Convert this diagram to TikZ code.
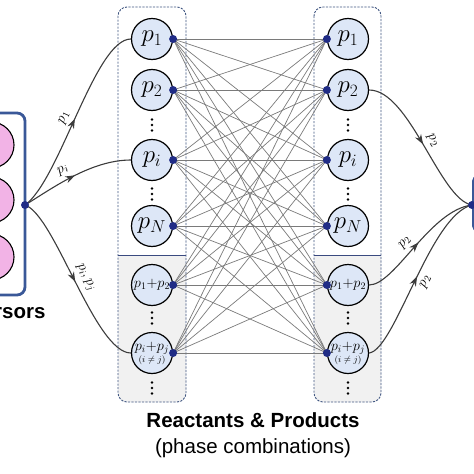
\documentclass[tikz,border=0pt]{standalone}
\usepackage{fontspec}
\newfontfamily\arialf{Liberation Sans}
\usetikzlibrary{arrows.meta,decorations.markings}
\definecolor{nodefill}{HTML}{DDE7F7}
\definecolor{navy}{HTML}{202C86}
\definecolor{boxblue}{HTML}{3A5898}
\definecolor{dashblue}{HTML}{3F5580}
\definecolor{sepblue}{HTML}{3A4A80}
\definecolor{crossgray}{HTML}{7A7A7A}
\definecolor{curvegray}{HTML}{3C3C3C}
\definecolor{lightshade}{HTML}{F1F1F1}
\definecolor{pinkfill}{HTML}{F2B3E6}
\begin{document}
\begin{tikzpicture}[x=1pt,y=1pt,
  pnode/.style={circle,draw=black,line width=1.2pt,fill=nodefill,minimum size=41pt,inner sep=0pt},
  bignum/.style={font=\fontsize{24}{26}\selectfont},
  smallnum/.style={font=\fontsize{14}{15}\selectfont,align=center},
  dotn/.style={circle,fill=navy,minimum size=8pt,inner sep=0pt},
  vdot/.style={circle,fill=black,minimum size=2.8pt,inner sep=0pt},
  cross/.style={draw=crossgray,line width=0.7pt},
  flow/.style={draw=curvegray,line width=1.1pt,postaction={decorate},
    decoration={markings,mark=at position 0.5 with {\arrow{Stealth[length=10pt,width=7pt]}}}},
  elabel/.style={font=\fontsize{14}{15}\selectfont,sloped,inner sep=5pt},
  colbox/.style={draw=dashblue,line width=0.9pt,dash pattern=on 2.2pt off 1.3pt,rounded corners=9pt},
  pinkn/.style={circle,draw=black,line width=1.1pt,fill=pinkfill,minimum size=46pt,inner sep=0pt},
  bigbox/.style={draw=boxblue,line width=2.8pt,rounded corners=8pt},
  bold/.style={font=\arialf\bfseries\fontsize{20.5}{24}\selectfont},
  plain/.style={font=\arialf\fontsize{20.5}{24}\selectfont},
]
\useasboundingbox (0,0) rectangle (474,-474);
\clip (0,0) rectangle (474,-474);

% shaded lower parts of the two columns
\begin{scope}
  \clip (100,-255) rectangle (400,-420);
  \fill[lightshade,rounded corners=9pt] (118,-7) rectangle (186,-402);
  \fill[lightshade,rounded corners=9pt] (314,-7) rectangle (381,-402);
\end{scope}
\draw[colbox] (118,-7) rectangle (186,-402);
\draw[colbox] (314,-7) rectangle (381,-402);
\draw[sepblue,line width=1pt] (118,-255) -- (186,-255);
\draw[sepblue,line width=1pt] (314,-255) -- (381,-255);

% precursor box
\node[pinkn] (P1) at (-9,-145) {};
\node[pinkn] (P2) at (-9,-200) {};
\node[pinkn] (P3) at (-9,-257) {};
\draw[bigbox] (-40,-113) rectangle (25,-295);
\coordinate (PDc) at (25,-205);
\node[bold,anchor=base east] (prec) at (49,-318) {Precursors};

% target box
\draw[bigbox,rounded corners=4pt] (473.5,-177) rectangle (510,-230);
\coordinate (TDc) at (472,-205);

% left column nodes
\node[pnode,bignum] (L1) at (152,-39) {$p_1$};
\node[pnode,bignum] (L2) at (152,-90) {$p_2$};
\node[pnode,bignum] (L3) at (152,-160) {$p_i$};
\node[pnode,bignum] (L4) at (152,-226) {$p_N$};
\node[pnode,smallnum] (L5) at (152,-285) {$p_1{+}p_2$};
\node[pnode,smallnum] (L6) at (152,-353) {$p_i{+}p_j$\\[-3pt]{\fontsize{9}{10}\selectfont$(i\neq j)$}};
% right column nodes
\node[pnode,bignum] (R1) at (348,-39) {$p_1$};
\node[pnode,bignum] (R2) at (348,-90) {$p_2$};
\node[pnode,bignum] (R3) at (348,-160) {$p_i$};
\node[pnode,bignum] (R4) at (348,-226) {$p_N$};
\node[pnode,smallnum] (R5) at (348,-285) {$p_1{+}p_2$};
\node[pnode,smallnum] (R6) at (348,-353) {$p_i{+}p_j$\\[-3pt]{\fontsize{9}{10}\selectfont$(i\neq j)$}};

% vertical ellipses
\foreach \xx/\nm in {152/l,348/r}{
  \foreach \yy/\k in {125/a,194/b,318/c,388/d}{
    \node[vdot] (\nm\k1) at (\xx,-\yy+5.5) {};
    \node[vdot] (\nm\k2) at (\xx,-\yy) {};
    \node[vdot] (\nm\k3) at (\xx,-\yy-5.5) {};
  }
}

% complete bipartite connections
\foreach \i in {1,...,6}{
  \foreach \j in {1,...,6}{
    \draw[cross] (L\i.east) -- (R\j.west);
  }
}

% flows
\draw[flow] (PDc) .. controls (60,-180) and (95,-39) .. (L1.west)
  node[elabel,above,pos=0.46] {$p_1$};
\draw[flow] (PDc) .. controls (50,-190) and (90,-160) .. (L3.west)
  node[elabel,above,pos=0.46] {$p_i$};
\draw[flow] (PDc) .. controls (55,-215) and (95,-353) .. (L6.west)
  node[elabel,above,pos=0.5] {$p_i,p_j$};
\draw[flow] (R2.east) .. controls (410,-90) and (440,-200) .. (TDc)
  node[elabel,above,pos=0.5] {$p_2$};
\draw[flow] (R5.east) .. controls (395,-285) and (430,-210) .. (TDc)
  node[elabel,above,pos=0.48] {$p_2$};
\draw[flow] (R6.east) .. controls (395,-350) and (430,-215) .. (TDc)
  node[elabel,below,pos=0.52] {$p_2$};

% dots
\node[dotn] (PD) at (PDc) {};
\node[dotn] (TD) at (TDc) {};
\foreach \i in {1,...,6}{
  \node[dotn] (LD\i) at (L\i.east) {};
  \node[dotn] (RD\i) at (R\i.west) {};
}

% captions
\node[bold,anchor=base] (rp) at (253,-427) {Reactants \& Products};
\node[plain,anchor=base] (pc) at (253,-453) {(phase combinations)};
\end{tikzpicture}
\end{document}
